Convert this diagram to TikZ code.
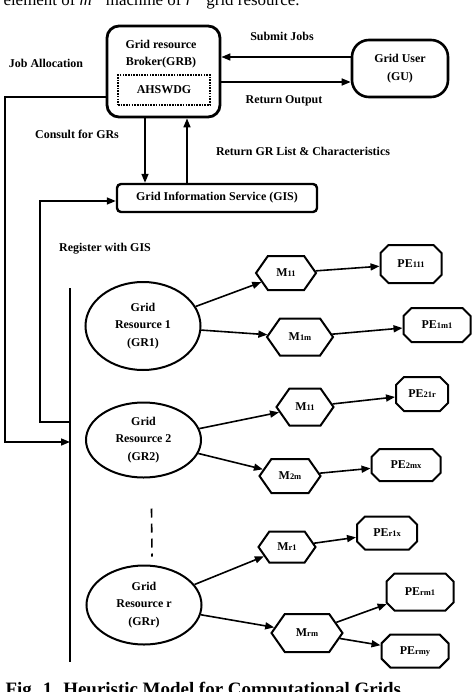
\documentclass[tikz,border=0pt]{standalone}
\usepackage{fontspec}
\setmainfont{Liberation Serif}
\usetikzlibrary{shapes.geometric,shapes.misc,shapes.symbols,arrows.meta,positioning}

\newcommand{\peidx}[1]{{\fontsize{8.5}{9}\selectfont #1}}

\begin{document}
\begin{tikzpicture}[x=1bp,y=-1bp,>={Triangle[length=9bp,width=7bp]},
	every node/.style={font=\bfseries\fontsize{12}{17.5}\selectfont,align=center},
	grb_node/.style={draw,line width=2.8bp,rounded corners=12bp,minimum width=113bp,minimum height=91bp},
	ahs_node/.style={draw,line width=2.2bp,dash pattern=on 1.6bp off 1.1bp,minimum width=92bp,minimum height=30bp},
	gu_node/.style={draw,line width=2.6bp,rounded corners=17bp,minimum width=96bp,minimum height=57bp},
	gis_node/.style={draw,line width=2.4bp,rounded corners=4bp,minimum width=200bp,minimum height=28bp},
	gr_node/.style={ellipse,draw,line width=2bp,minimum width=115bp,inner sep=0pt},
	m_node/.style={signal,signal to=east and west,signal pointer angle=110,draw,line width=2bp,minimum height=34bp,inner sep=1bp},
	pe_node/.style={chamfered rectangle,chamfered rectangle xsep=9bp,draw,line width=2bp,minimum height=34bp,inner sep=1bp},
	link/.style={->,line width=1.6bp}]

	\useasboundingbox (0,0) rectangle (474,692);
	\clip (0,0) rectangle (474,692);

	\node[anchor=base west,font=\fontsize{17}{19}\selectfont] (topline) at (0,5.5) {element of \textit{m}\textsuperscript{th} machine of \textit{r}\textsuperscript{th} grid resource.};
	\node[anchor=base west,font=\bfseries\fontsize{19}{22}\selectfont] (caption) at (2,695) {Fig. 1. Heuristic Model for Computational Grids};

	\node[grb_node] (grb) at (163.5,71.5) {};
	\node (grb_txt) at (161,54) {Grid resource\\Broker(GRB)};
	\node[ahs_node] (ahs) at (164,90) {AHSWDG};
	\node[gu_node] (gu) at (400,68.5) {Grid User\\(GU)};
	\node[gis_node] (gis) at (217,198) {Grid Information Service (GIS)};

	\node[gr_node,minimum height=88bp] (gr1) at (143,326) {Grid\\Resource 1\\(GR1)};
	\node[gr_node,minimum height=75bp] (gr2) at (143.5,440) {Grid\\Resource 2\\(GR2)};
	\node[gr_node,minimum height=79bp] (grr) at (144,605) {Grid\\Resource r\\(GRr)};

	\node[m_node,minimum width=60bp] (m11a) at (286,273) {M\peidx{11}};
	\node[m_node,minimum width=66bp,minimum height=37bp] (m1m) at (300,337) {M\peidx{1m}};
	\node[m_node,minimum width=57bp,minimum height=37bp] (m11b) at (305,407) {M\peidx{11}};
	\node[m_node,minimum width=61bp] (m2m) at (290,476) {M\peidx{2m}};
	\node[m_node,minimum width=57bp,minimum height=31bp] (mr1) at (287,547) {M\peidx{r1}};
	\node[m_node,minimum width=71bp,minimum height=38bp] (mrm) at (307,633) {M\peidx{rm}};

	\node[pe_node,minimum width=61bp,minimum height=38bp] (pe111) at (411,264) {PE\peidx{111}};
	\node[pe_node,minimum width=67bp] (pe1m1) at (437,325) {PE\peidx{1m1}};
	\node[pe_node,minimum width=52bp] (pe21r) at (422,394) {PE\peidx{21r}};
	\node[pe_node,minimum width=69bp,minimum height=32bp] (pe2mx) at (406,465) {PE\peidx{2mx}};
	\node[pe_node,minimum width=60bp,minimum height=33bp] (per1x) at (387,533) {PE\peidx{r1x}};
	\node[pe_node,minimum width=67bp,minimum height=37bp] (perm1) at (420,592) {PE\peidx{rm1}};
	\node[pe_node,minimum width=67bp,minimum height=33bp] (permy) at (415,651) {PE\peidx{rmy}};

	\node (submit) at (282,36) {Submit Jobs};
	\node (retout) at (284,101) {Return Output};
	\node (joballoc) at (46,63) {Job Allocation};
	\node (consult) at (77,134) {Consult for GRs};
	\node (retlist) at (303,151) {Return GR List \& Characteristics};
	\node (register) at (105,249) {Register with GIS};

	\coordinate (bus_top) at (70,288);
	\coordinate (bus_bot) at (70,662);
	\coordinate (ja_turn) at (5,442);
	\coordinate (reg_start) at (70,422);
	\coordinate (reg_turn) at (40,201);

	\draw[line width=1.6bp] (bus_top) -- (bus_bot);
	\draw[link] ([yshift=11.5bp]gu.west) -- ([yshift=11.5bp]gu.west -| grb.east);
	\draw[link] ([yshift=-10.5bp]grb.east) -- ([yshift=-10.5bp]grb.east -| gu.west);
	\draw[link] ([xshift=-18.5bp]grb.south) -- ([xshift=-18.5bp]grb.south |- gis.north);
	\draw[link] ([xshift=23.5bp]grb.south |- gis.north) -- ([xshift=23.5bp]grb.south);
	\draw[link] ([yshift=-25.5bp]grb.west) -| (ja_turn) -- (bus_top |- ja_turn);
	\draw[link] (reg_start) -| (reg_turn) -- (gis.west |- reg_turn);
	\draw[line width=1.6bp,dash pattern=on 9bp off 6bp] ([xshift=8bp,yshift=-30bp]gr2.south) -- ([xshift=8bp,yshift=8bp]grr.north);

	\path[link] (gr1) edge (m11a)
(gr1) edge (m1m)
(m11a) edge (pe111)
(m1m) edge (pe1m1)

(gr2) edge (m11b)
(gr2) edge (m2m)
(m11b) edge (pe21r)
(m2m) edge (pe2mx)

(grr) edge (mr1)
(grr) edge (mrm)
(mr1) edge (per1x)
(mrm) edge (perm1)
(mrm) edge (permy);
\end{tikzpicture}
\end{document}
